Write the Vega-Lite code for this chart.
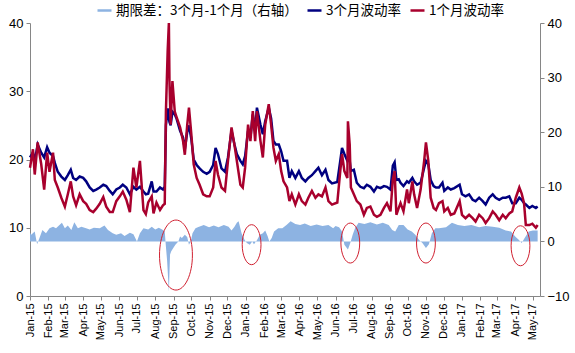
{
  "$schema": "https://vega.github.io/schema/vega-lite/v6.json",
  "width": 510,
  "height": 273,
  "autosize": "none",
  "padding": {"left": 30, "top": 23, "right": 35, "bottom": 57},
  "config": {
    "view": {"stroke": null},
    "font": "Liberation Sans",
    "axis": {"grid": false, "title": null, "domainColor": "#868686", "tickColor": "#868686", "labelColor": "#000000", "tickSize": 4}
  },
  "datasets": {
    "lines": [
      {"d": "2015-01-01", "m3": 20.3, "m1": 18.8},
      {"d": "2015-01-06", "m3": 21.0, "m1": 21.5},
      {"d": "2015-01-09", "m3": 19.7, "m1": 17.8},
      {"d": "2015-01-14", "m3": 22.2, "m1": 22.5},
      {"d": "2015-01-20", "m3": 21.0, "m1": 19.3},
      {"d": "2015-01-25", "m3": 20.3, "m1": 15.6},
      {"d": "2015-01-30", "m3": 21.8, "m1": 21.0},
      {"d": "2015-02-03", "m3": 21.0, "m1": 18.2},
      {"d": "2015-02-09", "m3": 20.5, "m1": 21.0},
      {"d": "2015-02-12", "m3": 19.5, "m1": 17.0},
      {"d": "2015-02-17", "m3": 18.2, "m1": 15.9},
      {"d": "2015-02-23", "m3": 17.5, "m1": 14.4},
      {"d": "2015-03-01", "m3": 17.0, "m1": 13.1},
      {"d": "2015-03-06", "m3": 17.7, "m1": 14.9},
      {"d": "2015-03-11", "m3": 18.5, "m1": 16.8},
      {"d": "2015-03-15", "m3": 17.3, "m1": 14.6},
      {"d": "2015-03-20", "m3": 17.0, "m1": 13.3},
      {"d": "2015-03-26", "m3": 17.5, "m1": 14.9},
      {"d": "2015-04-01", "m3": 17.3, "m1": 13.9},
      {"d": "2015-04-06", "m3": 16.8, "m1": 13.5},
      {"d": "2015-04-12", "m3": 15.9, "m1": 12.6},
      {"d": "2015-04-18", "m3": 15.4, "m1": 12.3},
      {"d": "2015-04-23", "m3": 15.6, "m1": 12.8},
      {"d": "2015-04-29", "m3": 15.9, "m1": 13.5},
      {"d": "2015-05-05", "m3": 16.3, "m1": 14.5},
      {"d": "2015-05-10", "m3": 16.1, "m1": 13.1},
      {"d": "2015-05-16", "m3": 15.4, "m1": 12.3},
      {"d": "2015-05-21", "m3": 14.9, "m1": 12.3},
      {"d": "2015-05-27", "m3": 15.6, "m1": 13.9},
      {"d": "2015-06-02", "m3": 15.9, "m1": 14.6},
      {"d": "2015-06-07", "m3": 16.3, "m1": 15.3},
      {"d": "2015-06-13", "m3": 15.9, "m1": 14.1},
      {"d": "2015-06-19", "m3": 14.9, "m1": 12.3},
      {"d": "2015-06-25", "m3": 16.0, "m1": 18.8},
      {"d": "2015-06-30", "m3": 15.6, "m1": 15.9},
      {"d": "2015-07-06", "m3": 16.0, "m1": 19.8},
      {"d": "2015-07-12", "m3": 15.3, "m1": 12.6},
      {"d": "2015-07-16", "m3": 14.9, "m1": 12.0},
      {"d": "2015-07-20", "m3": 15.0, "m1": 13.7},
      {"d": "2015-07-26", "m3": 16.8, "m1": 14.6},
      {"d": "2015-07-29", "m3": 15.3, "m1": 12.1},
      {"d": "2015-08-03", "m3": 15.3, "m1": 13.7},
      {"d": "2015-08-09", "m3": 15.9, "m1": 12.6},
      {"d": "2015-08-14", "m3": 15.6, "m1": 13.3},
      {"d": "2015-08-17", "m3": 16.0, "m1": 13.5},
      {"d": "2015-08-19", "m3": 25.0, "m1": 27.0},
      {"d": "2015-08-22", "m3": 27.5, "m1": 36.0},
      {"d": "2015-08-24", "m3": 26.0, "m1": 40.0},
      {"d": "2015-08-25", "m3": 25.5, "m1": 31.5},
      {"d": "2015-08-27", "m3": 25.0, "m1": 25.1},
      {"d": "2015-08-30", "m3": 27.0, "m1": 31.5},
      {"d": "2015-09-03", "m3": 26.6, "m1": 27.0},
      {"d": "2015-09-06", "m3": 26.0, "m1": 26.2},
      {"d": "2015-09-12", "m3": 24.2, "m1": 24.7},
      {"d": "2015-09-17", "m3": 23.2, "m1": 22.7},
      {"d": "2015-09-20", "m3": 21.5, "m1": 20.7},
      {"d": "2015-09-24", "m3": 24.0, "m1": 25.0},
      {"d": "2015-09-27", "m3": 25.0, "m1": 27.6},
      {"d": "2015-10-01", "m3": 23.0, "m1": 23.7},
      {"d": "2015-10-05", "m3": 20.0, "m1": 19.3},
      {"d": "2015-10-10", "m3": 19.2, "m1": 17.3},
      {"d": "2015-10-15", "m3": 18.7, "m1": 16.3},
      {"d": "2015-10-21", "m3": 18.2, "m1": 14.9},
      {"d": "2015-10-27", "m3": 17.9, "m1": 14.6},
      {"d": "2015-11-01", "m3": 18.2, "m1": 14.6},
      {"d": "2015-11-07", "m3": 19.2, "m1": 15.9},
      {"d": "2015-11-11", "m3": 21.7, "m1": 19.8},
      {"d": "2015-11-15", "m3": 20.8, "m1": 17.8},
      {"d": "2015-11-21", "m3": 18.7, "m1": 15.9},
      {"d": "2015-11-27", "m3": 18.2, "m1": 15.4},
      {"d": "2015-12-02", "m3": 20.3, "m1": 19.8},
      {"d": "2015-12-08", "m3": 24.2, "m1": 24.7},
      {"d": "2015-12-13", "m3": 22.2, "m1": 22.1},
      {"d": "2015-12-17", "m3": 20.8, "m1": 19.8},
      {"d": "2015-12-23", "m3": 19.8, "m1": 16.3},
      {"d": "2015-12-27", "m3": 19.3, "m1": 15.9},
      {"d": "2015-12-31", "m3": 20.5, "m1": 18.8},
      {"d": "2016-01-05", "m3": 24.2, "m1": 25.1},
      {"d": "2016-01-09", "m3": 23.2, "m1": 22.7},
      {"d": "2016-01-13", "m3": 26.6, "m1": 27.1},
      {"d": "2016-01-17", "m3": 24.2, "m1": 22.7},
      {"d": "2016-01-20", "m3": 27.6, "m1": 27.1},
      {"d": "2016-01-26", "m3": 25.1, "m1": 22.7},
      {"d": "2016-01-30", "m3": 23.7, "m1": 20.3},
      {"d": "2016-02-03", "m3": 25.6, "m1": 25.1},
      {"d": "2016-02-09", "m3": 27.6, "m1": 28.1},
      {"d": "2016-02-13", "m3": 26.0, "m1": 25.1},
      {"d": "2016-02-17", "m3": 22.7, "m1": 21.7},
      {"d": "2016-02-21", "m3": 22.2, "m1": 19.8},
      {"d": "2016-02-26", "m3": 22.2, "m1": 20.8},
      {"d": "2016-03-01", "m3": 21.2, "m1": 18.3},
      {"d": "2016-03-05", "m3": 19.8, "m1": 16.8},
      {"d": "2016-03-11", "m3": 19.8, "m1": 15.9},
      {"d": "2016-03-15", "m3": 17.3, "m1": 13.9},
      {"d": "2016-03-19", "m3": 18.3, "m1": 14.9},
      {"d": "2016-03-25", "m3": 17.3, "m1": 13.4},
      {"d": "2016-03-31", "m3": 18.3, "m1": 14.9},
      {"d": "2016-04-05", "m3": 17.3, "m1": 13.9},
      {"d": "2016-04-11", "m3": 16.8, "m1": 13.4},
      {"d": "2016-04-16", "m3": 17.3, "m1": 14.4},
      {"d": "2016-04-22", "m3": 17.7, "m1": 15.4},
      {"d": "2016-04-28", "m3": 18.3, "m1": 14.4},
      {"d": "2016-05-03", "m3": 18.8, "m1": 14.9},
      {"d": "2016-05-09", "m3": 17.7, "m1": 14.6},
      {"d": "2016-05-15", "m3": 18.5, "m1": 15.9},
      {"d": "2016-05-20", "m3": 17.0, "m1": 13.9},
      {"d": "2016-05-26", "m3": 16.5, "m1": 13.4},
      {"d": "2016-06-04", "m3": 16.7, "m1": 13.7},
      {"d": "2016-06-09", "m3": 19.8, "m1": 18.3},
      {"d": "2016-06-12", "m3": 21.7, "m1": 20.8},
      {"d": "2016-06-16", "m3": 20.8, "m1": 18.3},
      {"d": "2016-06-21", "m3": 19.8, "m1": 17.3},
      {"d": "2016-06-22", "m3": 20.0, "m1": 25.6},
      {"d": "2016-06-25", "m3": 19.8, "m1": 22.2},
      {"d": "2016-06-27", "m3": 18.3, "m1": 15.9},
      {"d": "2016-07-02", "m3": 18.5, "m1": 14.9},
      {"d": "2016-07-07", "m3": 16.6, "m1": 13.9},
      {"d": "2016-07-13", "m3": 16.0, "m1": 13.4},
      {"d": "2016-07-19", "m3": 15.8, "m1": 11.9},
      {"d": "2016-07-24", "m3": 16.3, "m1": 12.9},
      {"d": "2016-07-30", "m3": 16.0, "m1": 13.1},
      {"d": "2016-08-05", "m3": 15.3, "m1": 11.9},
      {"d": "2016-08-10", "m3": 16.0, "m1": 11.6},
      {"d": "2016-08-16", "m3": 15.8, "m1": 11.9},
      {"d": "2016-08-22", "m3": 16.1, "m1": 12.9},
      {"d": "2016-08-27", "m3": 16.0, "m1": 13.6},
      {"d": "2016-09-02", "m3": 15.6, "m1": 12.4},
      {"d": "2016-09-06", "m3": 19.1, "m1": 17.1},
      {"d": "2016-09-09", "m3": 19.6, "m1": 18.3},
      {"d": "2016-09-12", "m3": 17.0, "m1": 11.9},
      {"d": "2016-09-16", "m3": 17.1, "m1": 12.9},
      {"d": "2016-09-19", "m3": 16.6, "m1": 13.6},
      {"d": "2016-09-24", "m3": 16.1, "m1": 12.4},
      {"d": "2016-09-30", "m3": 16.8, "m1": 15.6},
      {"d": "2016-10-03", "m3": 16.6, "m1": 13.6},
      {"d": "2016-10-09", "m3": 17.3, "m1": 16.8},
      {"d": "2016-10-12", "m3": 16.8, "m1": 14.9},
      {"d": "2016-10-17", "m3": 16.3, "m1": 12.9},
      {"d": "2016-10-23", "m3": 16.6, "m1": 15.6},
      {"d": "2016-10-29", "m3": 18.8, "m1": 19.8},
      {"d": "2016-11-01", "m3": 19.8, "m1": 22.5},
      {"d": "2016-11-05", "m3": 19.3, "m1": 19.8},
      {"d": "2016-11-09", "m3": 17.0, "m1": 14.4},
      {"d": "2016-11-14", "m3": 16.1, "m1": 12.9},
      {"d": "2016-11-18", "m3": 15.9, "m1": 12.6},
      {"d": "2016-11-23", "m3": 15.9, "m1": 13.6},
      {"d": "2016-11-29", "m3": 16.6, "m1": 13.9},
      {"d": "2016-12-02", "m3": 15.4, "m1": 12.4},
      {"d": "2016-12-08", "m3": 15.9, "m1": 12.9},
      {"d": "2016-12-13", "m3": 15.6, "m1": 11.9},
      {"d": "2016-12-19", "m3": 15.8, "m1": 12.1},
      {"d": "2016-12-28", "m3": 16.3, "m1": 13.9},
      {"d": "2017-01-01", "m3": 14.9, "m1": 11.9},
      {"d": "2017-01-07", "m3": 14.6, "m1": 11.4},
      {"d": "2017-01-13", "m3": 14.9, "m1": 11.9},
      {"d": "2017-01-19", "m3": 14.1, "m1": 11.4},
      {"d": "2017-01-24", "m3": 13.9, "m1": 10.9},
      {"d": "2017-01-30", "m3": 14.4, "m1": 11.9},
      {"d": "2017-02-05", "m3": 13.9, "m1": 11.4},
      {"d": "2017-02-10", "m3": 13.4, "m1": 10.7},
      {"d": "2017-02-16", "m3": 14.4, "m1": 11.4},
      {"d": "2017-02-22", "m3": 14.9, "m1": 12.4},
      {"d": "2017-02-27", "m3": 14.4, "m1": 11.9},
      {"d": "2017-03-05", "m3": 14.1, "m1": 11.1},
      {"d": "2017-03-11", "m3": 14.4, "m1": 11.9},
      {"d": "2017-03-16", "m3": 14.4, "m1": 11.4},
      {"d": "2017-03-22", "m3": 14.6, "m1": 12.1},
      {"d": "2017-03-27", "m3": 13.6, "m1": 12.4},
      {"d": "2017-04-02", "m3": 13.6, "m1": 14.4},
      {"d": "2017-04-08", "m3": 14.4, "m1": 15.9},
      {"d": "2017-04-12", "m3": 14.1, "m1": 15.0},
      {"d": "2017-04-16", "m3": 13.6, "m1": 13.6},
      {"d": "2017-04-19", "m3": 13.4, "m1": 10.4},
      {"d": "2017-04-25", "m3": 12.9, "m1": 10.4},
      {"d": "2017-04-30", "m3": 13.2, "m1": 10.6},
      {"d": "2017-05-06", "m3": 12.9, "m1": 10.0},
      {"d": "2017-05-09", "m3": 13.1, "m1": 10.4}
    ],
    "spread": [
      {"d": "2015-01-01", "s": 1.6}, {"d": "2015-01-03", "s": 1.2}, {"d": "2015-01-09", "s": 1.8}, {"d": "2015-01-13", "s": -0.5},
      {"d": "2015-01-17", "s": 0.6}, {"d": "2015-01-22", "s": 2.1}, {"d": "2015-01-28", "s": 1.5}, {"d": "2015-02-03", "s": 2.4},
      {"d": "2015-02-09", "s": 2.7}, {"d": "2015-02-14", "s": 2.4}, {"d": "2015-02-19", "s": 2.9}, {"d": "2015-02-24", "s": 3.4},
      {"d": "2015-03-01", "s": 2.4}, {"d": "2015-03-06", "s": 2.9}, {"d": "2015-03-12", "s": 2.1}, {"d": "2015-03-17", "s": 3.5},
      {"d": "2015-03-23", "s": 2.4}, {"d": "2015-03-29", "s": 2.7}, {"d": "2015-04-06", "s": 2.4}, {"d": "2015-04-12", "s": 2.2},
      {"d": "2015-04-19", "s": 2.5}, {"d": "2015-04-29", "s": 2.4}, {"d": "2015-05-07", "s": 2.9}, {"d": "2015-05-13", "s": 2.1},
      {"d": "2015-05-21", "s": 1.5}, {"d": "2015-05-27", "s": 1.2}, {"d": "2015-06-04", "s": 1.5}, {"d": "2015-06-10", "s": 1.0},
      {"d": "2015-06-19", "s": 1.6}, {"d": "2015-06-25", "s": 1.3}, {"d": "2015-07-01", "s": 0.0}, {"d": "2015-07-06", "s": 1.5},
      {"d": "2015-07-12", "s": 2.4}, {"d": "2015-07-20", "s": 2.2}, {"d": "2015-07-26", "s": 2.7}, {"d": "2015-08-01", "s": 2.2},
      {"d": "2015-08-07", "s": 2.5}, {"d": "2015-08-14", "s": 2.1}, {"d": "2015-08-17", "s": 1.8}, {"d": "2015-08-19", "s": -1.0},
      {"d": "2015-08-21", "s": -3.5}, {"d": "2015-08-24", "s": -9.2}, {"d": "2015-08-26", "s": -2.4}, {"d": "2015-08-28", "s": -1.8},
      {"d": "2015-09-01", "s": -1.1}, {"d": "2015-09-04", "s": -0.6}, {"d": "2015-09-09", "s": 0.0}, {"d": "2015-09-12", "s": 0.9},
      {"d": "2015-09-15", "s": 0.6}, {"d": "2015-09-20", "s": 1.2}, {"d": "2015-09-24", "s": 0.8}, {"d": "2015-09-27", "s": -0.6},
      {"d": "2015-09-30", "s": 0.0}, {"d": "2015-10-03", "s": 1.5}, {"d": "2015-10-08", "s": 2.4}, {"d": "2015-10-14", "s": 2.7},
      {"d": "2015-10-22", "s": 3.0}, {"d": "2015-10-31", "s": 2.6}, {"d": "2015-11-08", "s": 2.9}, {"d": "2015-11-16", "s": 2.6},
      {"d": "2015-11-25", "s": 3.0}, {"d": "2015-12-03", "s": 2.7}, {"d": "2015-12-08", "s": 2.0}, {"d": "2015-12-13", "s": 2.7},
      {"d": "2015-12-17", "s": 3.4}, {"d": "2015-12-20", "s": 3.7}, {"d": "2015-12-25", "s": 1.5}, {"d": "2015-12-30", "s": 0.3},
      {"d": "2016-01-03", "s": -0.3}, {"d": "2016-01-08", "s": -0.6}, {"d": "2016-01-12", "s": 0.0}, {"d": "2016-01-15", "s": -0.5},
      {"d": "2016-01-20", "s": 0.2}, {"d": "2016-01-25", "s": 1.2}, {"d": "2016-01-30", "s": 1.5}, {"d": "2016-02-03", "s": 2.0},
      {"d": "2016-02-07", "s": 1.0}, {"d": "2016-02-10", "s": 0.0}, {"d": "2016-02-14", "s": 0.6}, {"d": "2016-02-18", "s": 1.8},
      {"d": "2016-02-25", "s": 2.4}, {"d": "2016-03-03", "s": 2.4}, {"d": "2016-03-10", "s": 3.0}, {"d": "2016-03-17", "s": 3.7},
      {"d": "2016-03-25", "s": 3.2}, {"d": "2016-04-02", "s": 3.0}, {"d": "2016-04-10", "s": 3.3}, {"d": "2016-04-20", "s": 2.8},
      {"d": "2016-04-30", "s": 3.1}, {"d": "2016-05-10", "s": 2.8}, {"d": "2016-05-20", "s": 3.0}, {"d": "2016-05-28", "s": 2.4},
      {"d": "2016-06-01", "s": 2.8}, {"d": "2016-06-07", "s": 2.6}, {"d": "2016-06-12", "s": 1.8}, {"d": "2016-06-16", "s": -0.6},
      {"d": "2016-06-22", "s": -1.5}, {"d": "2016-06-26", "s": -0.3}, {"d": "2016-06-30", "s": 1.2}, {"d": "2016-07-04", "s": 2.4},
      {"d": "2016-07-10", "s": 3.4}, {"d": "2016-07-20", "s": 3.2}, {"d": "2016-07-30", "s": 3.5}, {"d": "2016-08-10", "s": 3.1},
      {"d": "2016-08-20", "s": 3.4}, {"d": "2016-08-30", "s": 3.0}, {"d": "2016-09-05", "s": 2.1}, {"d": "2016-09-10", "s": 1.8},
      {"d": "2016-09-16", "s": 3.0}, {"d": "2016-09-24", "s": 3.0}, {"d": "2016-10-01", "s": 2.2}, {"d": "2016-10-08", "s": 1.8},
      {"d": "2016-10-14", "s": 1.2}, {"d": "2016-10-20", "s": 0.3}, {"d": "2016-10-26", "s": -0.3}, {"d": "2016-11-01", "s": -1.2},
      {"d": "2016-11-06", "s": -0.5}, {"d": "2016-11-11", "s": 1.5}, {"d": "2016-11-17", "s": 2.4}, {"d": "2016-11-23", "s": 2.4},
      {"d": "2016-12-05", "s": 2.6}, {"d": "2016-12-15", "s": 3.4}, {"d": "2016-12-25", "s": 3.0}, {"d": "2017-01-05", "s": 2.8},
      {"d": "2017-01-17", "s": 3.0}, {"d": "2017-01-30", "s": 2.6}, {"d": "2017-02-10", "s": 2.8}, {"d": "2017-02-22", "s": 2.7},
      {"d": "2017-03-05", "s": 2.5}, {"d": "2017-03-16", "s": 2.0}, {"d": "2017-03-25", "s": 1.8}, {"d": "2017-04-01", "s": 0.9},
      {"d": "2017-04-07", "s": 0.3}, {"d": "2017-04-12", "s": -0.3}, {"d": "2017-04-17", "s": 0.6}, {"d": "2017-04-24", "s": 1.8},
      {"d": "2017-05-01", "s": 2.0}, {"d": "2017-05-09", "s": 2.0}
    ],
    "ellsmall": [
      {"d": "2016-01-11", "v": -0.6},
      {"d": "2016-06-26", "v": -0.3},
      {"d": "2016-11-01", "v": -0.3},
      {"d": "2017-04-10", "v": -0.8}
    ],
    "ellbig": [
      {"d": "2015-09-05", "v": -2.5}
    ]
  },
  "layer": [
    {
      "layer": [
        {
          "data": {"name": "spread"},
          "mark": {"type": "area", "opacity": 1},
          "encoding": {
            "x": {"field": "d", "type": "temporal", "scale": {"type": "utc", "domain": [{"year": 2015, "month": 1, "date": 1, "utc": true}, {"year": 2017, "month": 5, "date": 13, "utc": true}]},
              "axis": {"labelExpr": "utcFormat(datum.value, '%b-%y')", "tickCount": {"interval": "month", "step": 1}, "labelAngle": -90, "labelAlign": "right", "labelBaseline": "middle", "labelFontSize": 11, "labelPadding": 3, "labelOverlap": false, "labelFlush": false}},
            "y": {"field": "s", "type": "quantitative", "scale": {"domain": [-10, 40], "nice": false, "zero": false},
              "axis": {"orient": "right", "values": [-10, 0, 10, 20, 30, 40], "labelFontSize": 13, "labelPadding": 3}},
            "y2": {"datum": 0},
            "color": {"datum": "s", "type": "nominal",
              "scale": {"domain": ["s", "m3", "m1"], "range": ["#8DB3E2", "#000080", "#A8002D"]},
              "legend": {
                "orient": "none", "legendX": 66, "legendY": -21, "direction": "horizontal", "title": null,
                "labelFont": "Noto Sans CJK SC", "labelFontSize": 13.5, "labelColor": "#000000", "labelLimit": 400, "labelOffset": 3,
                "symbolSize": 196, "symbolStrokeWidth": 2.5, "symbolType": "stroke", "columnPadding": 4,
                "labelExpr": "datum.label == 's' ? '期限差：3个月-1个月（右轴）' : datum.label == 'm3' ? '3个月波动率' : '1个月波动率'",
                "encode": {"symbols": {"update": {
                  "shape": {"signal": "datum.value == 's' ? 'M-1,-0.4H1V0.4H-1Z' : 'stroke'"},
                  "fill": {"signal": "datum.value == 's' ? '#8DB3E2' : 'transparent'"},
                  "stroke": {"signal": "datum.value == 's' ? '#8DB3E2' : datum.value == 'm3' ? '#000080' : '#A8002D'"},
                  "opacity": {"value": 1}
                }}}
              }}
          }
        },
        {
          "data": {"name": "ellsmall"},
          "mark": {"type": "point", "shape": "M-0.47,0A0.47,1,0,1,0,0.47,0A0.47,1,0,1,0,-0.47,0Z", "size": 1600, "filled": false, "stroke": "#D02030", "strokeWidth": 1, "opacity": 1},
          "encoding": {
            "x": {"field": "d", "type": "temporal"},
            "y": {"field": "v", "type": "quantitative"}
          }
        },
        {
          "data": {"name": "ellbig"},
          "mark": {"type": "point", "shape": "M-0.47,0A0.47,1,0,1,0,0.47,0A0.47,1,0,1,0,-0.47,0Z", "size": 4900, "filled": false, "stroke": "#D02030", "strokeWidth": 1, "opacity": 1},
          "encoding": {
            "x": {"field": "d", "type": "temporal"},
            "y": {"field": "v", "type": "quantitative"}
          }
        }
      ]
    },
    {
      "layer": [
        {
          "data": {"name": "lines"},
          "mark": {"type": "line", "strokeWidth": 2.5},
          "encoding": {
            "x": {"field": "d", "type": "temporal"},
            "y": {"field": "m3", "type": "quantitative", "scale": {"domain": [0, 40], "nice": false},
              "axis": {"orient": "left", "values": [0, 10, 20, 30, 40], "labelFontSize": 13, "labelPadding": 3}},
            "color": {"datum": "m3", "type": "nominal"}
          }
        },
        {
          "data": {"name": "lines"},
          "mark": {"type": "line", "strokeWidth": 2.5},
          "encoding": {
            "x": {"field": "d", "type": "temporal"},
            "y": {"field": "m1", "type": "quantitative"},
            "color": {"datum": "m1", "type": "nominal"}
          }
        }
      ]
    }
  ],
  "resolve": {"scale": {"y": "independent"}}
}
